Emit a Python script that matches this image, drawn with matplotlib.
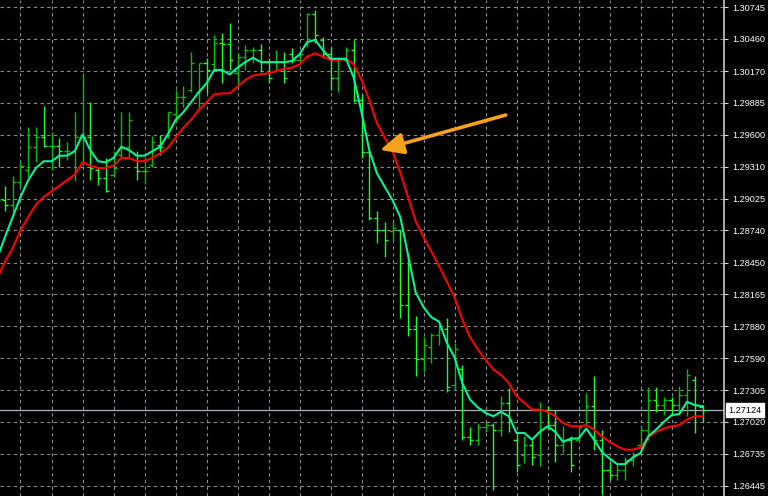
import matplotlib
matplotlib.use("Agg")
import matplotlib.pyplot as plt
import matplotlib.transforms as mtransforms
import numpy as np

# OHLC bars, oldest first (first bar is just off the left edge)
high = [1.2906, 1.2914, 1.2923, 1.2936, 1.2967, 1.2967, 1.2986, 1.2962, 1.2957, 1.2953,
        1.2980, 1.3014, 1.2989, 1.2931, 1.2939, 1.2945, 1.2980, 1.2980, 1.2945, 1.2940,
        1.2959, 1.2960, 1.2980, 1.3000, 1.3004, 1.3034, 1.3024, 1.3029, 1.3049, 1.3051,
        1.3060, 1.3033, 1.3040, 1.3039, 1.3041, 1.3029, 1.3036, 1.3034, 1.3038, 1.3034,
        1.3069, 1.3072, 1.3048, 1.3039, 1.3030, 1.3039, 1.3045, 1.2996, 1.2946, 1.2891,
        1.2881, 1.2881, 1.2874, 1.2854, 1.2797, 1.2778, 1.2782, 1.2789, 1.2795, 1.2773,
        1.2753, 1.2697, 1.2701, 1.2702, 1.2701, 1.2725, 1.2732, 1.2692, 1.2689, 1.2686,
        1.2720, 1.2716, 1.2713, 1.2698, 1.2689, 1.2699, 1.2728, 1.2743, 1.2695, 1.2666,
        1.2665, 1.2670, 1.2675, 1.2699, 1.2733, 1.2733, 1.2724, 1.2724, 1.2734, 1.2749,
        1.2743, 1.2717]
low = [1.2879, 1.2891, 1.2890, 1.2913, 1.2922, 1.2935, 1.2949, 1.2928, 1.2931, 1.2937,
       1.2918, 1.2933, 1.2919, 1.2915, 1.2908, 1.2922, 1.2939, 1.2939, 1.2919, 1.2916,
       1.2931, 1.2942, 1.2957, 1.2971, 1.2985, 1.2998, 1.2982, 1.2997, 1.3018, 1.3006,
       1.3018, 1.3003, 1.3018, 1.3024, 1.3016, 1.3006, 1.3018, 1.3006, 1.3024, 1.3025,
       1.3039, 1.3042, 1.3029, 1.3000, 1.2998, 1.3027, 1.2989, 1.2939, 1.2883, 1.2863,
       1.2850, 1.2865, 1.2795, 1.2779, 1.2743, 1.2747, 1.2755, 1.2771, 1.2729, 1.2731,
       1.2686, 1.2681, 1.2681, 1.2693, 1.2641, 1.2689, 1.2693, 1.2657, 1.2665, 1.2663,
       1.2662, 1.2695, 1.2666, 1.2674, 1.2657, 1.2686, 1.2698, 1.2677, 1.2636, 1.2650,
       1.2650, 1.2650, 1.2662, 1.2680, 1.2686, 1.2711, 1.2708, 1.2708, 1.2710, 1.2707,
       1.2692, 1.2702]
open_ = [1.2888, 1.2901, 1.2897, 1.2917, 1.2928, 1.2949, 1.2958, 1.2950, 1.2950, 1.2945,
         1.2945, 1.2958, 1.2958, 1.2928, 1.2921, 1.2924, 1.2942, 1.2949, 1.2942, 1.2927,
         1.2933, 1.2951, 1.2960, 1.2978, 1.2994, 1.3000, 1.2998, 1.3024, 1.3023, 1.3042,
         1.3041, 1.3015, 1.3030, 1.3036, 1.3036, 1.3025, 1.3025, 1.3025, 1.3032, 1.3027,
         1.3041, 1.3068, 1.3045, 1.3032, 1.3011, 1.3027, 1.3036, 1.2991, 1.2944, 1.2885,
         1.2874, 1.2873, 1.2874, 1.2807, 1.2785, 1.2758, 1.2769, 1.2780, 1.2785, 1.2735,
         1.2749, 1.2688, 1.2686, 1.2697, 1.2699, 1.2695, 1.2719, 1.2686, 1.2672, 1.2681,
         1.2672, 1.2713, 1.2699, 1.2681, 1.2686, 1.2686, 1.2699, 1.2716, 1.2686, 1.2659,
         1.2654, 1.2659, 1.2668, 1.2681, 1.2695, 1.2722, 1.2717, 1.2722, 1.2717, 1.2726,
         1.2740, 1.2715]
close = [1.2901, 1.2897, 1.2917, 1.2932, 1.2949, 1.2958, 1.2950, 1.2950, 1.2945, 1.2945,
         1.2958, 1.2958, 1.2930, 1.2921, 1.2909, 1.2930, 1.2949, 1.2973, 1.2927, 1.2927,
         1.2953, 1.2949, 1.2980, 1.2994, 1.2994, 1.3024, 1.3024, 1.3018, 1.3042, 1.3041,
         1.3027, 1.3030, 1.3036, 1.3036, 1.3025, 1.3011, 1.3025, 1.3011, 1.3027, 1.3032,
         1.3068, 1.3049, 1.3032, 1.3011, 1.3027, 1.3036, 1.2991, 1.2944, 1.2885, 1.2874,
         1.2865, 1.2876, 1.2807, 1.2785, 1.2758, 1.2771, 1.2780, 1.2785, 1.2733, 1.2767,
         1.2688, 1.2686, 1.2697, 1.2699, 1.2695, 1.2719, 1.2704, 1.2663, 1.2681, 1.2670,
         1.2713, 1.2699, 1.2681, 1.2686, 1.2663, 1.2697, 1.2716, 1.2686, 1.2659, 1.2654,
         1.2659, 1.2668, 1.2672, 1.2695, 1.2722, 1.2717, 1.2722, 1.2717, 1.2726, 1.2744,
         1.2717, 1.27124]

# moving averages as drawn on the chart
ma_fast = [1.2849, 1.2868, 1.2886, 1.2904, 1.2919, 1.2930, 1.2936, 1.2936, 1.2941, 1.2941,
           1.2945, 1.2960, 1.2946, 1.2936, 1.2935, 1.2939, 1.2949, 1.2946, 1.2941, 1.2941,
           1.2945, 1.2949, 1.2960, 1.2973, 1.2980, 1.2989, 1.2998, 1.3006, 1.3018, 1.3018,
           1.3014, 1.3020, 1.3025, 1.3029, 1.3025, 1.3025, 1.3025, 1.3025, 1.3026, 1.3032,
           1.3043, 1.3045, 1.3036, 1.3028, 1.3028, 1.3028, 1.3011, 1.2980, 1.2946, 1.2925,
           1.2913, 1.2901, 1.2886, 1.2852, 1.2818, 1.2805, 1.2796, 1.2792, 1.2773, 1.2760,
           1.2737, 1.2722, 1.2715, 1.2710, 1.2707, 1.2711, 1.2707, 1.2692, 1.2692, 1.2686,
           1.2693, 1.2698, 1.2693, 1.2684, 1.2687, 1.2687, 1.2696, 1.2686, 1.2675, 1.2669,
           1.2664, 1.2664, 1.2670, 1.2674, 1.2689, 1.2695, 1.2702, 1.2708, 1.2709, 1.2720,
           1.2717, 1.2716]
ma_slow = [1.2831, 1.2846, 1.2858, 1.2874, 1.2886, 1.2897, 1.2904, 1.2909, 1.2914, 1.2919,
           1.2924, 1.2935, 1.2932, 1.2930, 1.2930, 1.2932, 1.2939, 1.2939, 1.2936, 1.2936,
           1.2939, 1.2943, 1.2948, 1.2957, 1.2966, 1.2973, 1.2982, 1.2989, 1.2996, 1.2997,
           1.2997, 1.3003, 1.3009, 1.3013, 1.3014, 1.3015, 1.3017, 1.3019, 1.3020, 1.3023,
           1.3030, 1.3033, 1.3030, 1.3027, 1.3027, 1.3028, 1.3023, 1.3009, 1.2991, 1.2970,
           1.2957, 1.2945, 1.2926, 1.2904, 1.2882, 1.2868, 1.2855, 1.2842, 1.2828, 1.2814,
           1.2794, 1.2778, 1.2767, 1.2758, 1.2749, 1.2744, 1.2737, 1.2725, 1.2719, 1.2713,
           1.2713, 1.2711, 1.2707, 1.2701, 1.2698, 1.2698, 1.2699, 1.2695, 1.2689, 1.2684,
           1.2680, 1.2677, 1.2677, 1.2679, 1.2688, 1.2693, 1.2696, 1.2698, 1.2699, 1.2704,
           1.2707, 1.2707]

price_ticks = [1.30745, 1.30460, 1.30170, 1.29885, 1.29600, 1.29310, 1.29025, 1.28740,
               1.28450, 1.28165, 1.27880, 1.27590, 1.27305, 1.27020, 1.26735, 1.26445]

bg = "black"
grid_col = "#8c8c8c"
up_col = "#00c000"
down_col = "#1eff1e"

fig = plt.figure(figsize=(7.68, 4.96), dpi=100, facecolor=bg)
ax = fig.add_axes([0, 0, 724 / 768, 1])
ax.set_facecolor(bg)

x = np.arange(len(close))
o = np.array(open_)
c = np.array(close)
cols = np.where(c >= o, up_col, down_col)

# grid first so bars sit on top
ax.set_xticks(x[3::4])
ax.set_yticks(price_ticks)
ax.grid(True, color=grid_col, linestyle=(0, (3, 3)), linewidth=0.8, zorder=0)

# OHLC bars: range, open tick left, close tick right
ax.vlines(x, low, high, colors=cols, linewidth=1.0, zorder=2)
ax.hlines(open_, x - 0.4, x, colors=cols, linewidth=1.0, zorder=2)
ax.hlines(close, x, x + 0.4, colors=cols, linewidth=1.0, zorder=2)

ax.plot(x, ma_slow, color="#ff0000", linewidth=1.5, zorder=3)
ax.plot(x, ma_fast, color="#00f59a", linewidth=1.5, zorder=4)

# current price line
last = close[-1]
ax.axhline(last, color="#a9b3bd", linewidth=0.9, zorder=1)

ax.set_xlim(0.355, 93.77)
ax.set_ylim(1.26354, 1.30808)

# right price scale
ax.yaxis.tick_right()
ax.set_yticklabels([f"{t:.5f}" for t in price_ticks])
ax.tick_params(axis="y", colors="#d8d8d8", length=3, width=0.8, pad=3,
               labelsize=6.6, labelcolor="white")
ax.tick_params(axis="x", length=0, labelbottom=False)
for lab in ax.get_yticklabels():
    lab.set_fontfamily("Liberation Sans")
for side in ["left", "top", "bottom"]:
    ax.spines[side].set_visible(False)
ax.spines["right"].set_color("#c8c8c8")
ax.spines["right"].set_linewidth(1.2)

trans = mtransforms.blended_transform_factory(ax.transAxes, ax.transData)
ax.text(1.006, last, f"{last:.5f}", transform=trans, ha="left", va="center",
        fontsize=6.6, family="Liberation Sans", color="black", zorder=10,
        bbox=dict(boxstyle="square,pad=0.25", facecolor="white", edgecolor="white"),
        clip_on=False)

# orange arrow pointing at the crossover
ax.annotate("", xy=(49.4, 1.29461), xytext=(65.6, 1.29775),
            arrowprops=dict(arrowstyle="-|>,head_length=1.4,head_width=0.65",
                            color="#f7a21b", linewidth=2.6, shrinkA=0, shrinkB=0),
            zorder=6)

plt.savefig("out.png", dpi=100, facecolor=bg)
